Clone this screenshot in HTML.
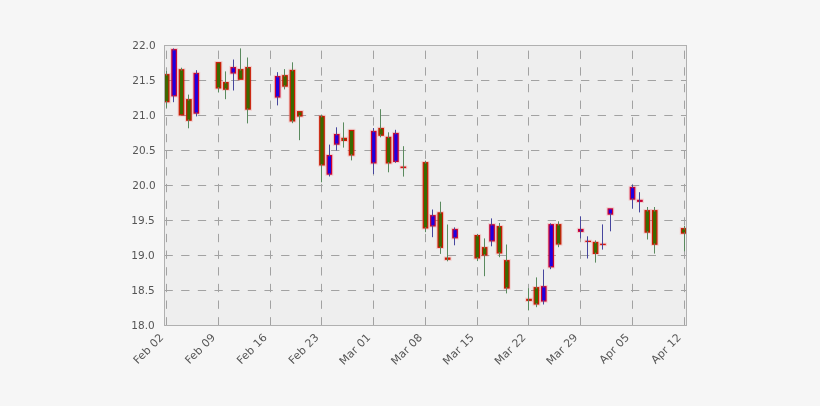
<!DOCTYPE html>
<html><head><meta charset="utf-8"><title>Candlestick chart</title>
<style>
html,body{margin:0;padding:0;background:#f6f6f6;}
body{width:820px;height:406px;overflow:hidden;}
svg{display:block;}
text{font-family:"DejaVu Sans","Liberation Sans",sans-serif;font-size:10.4px;fill:#555555;}
</style></head><body>
<svg width="820" height="406" viewBox="0 0 820 406">
<rect x="0" y="0" width="820" height="406" fill="#f6f6f6"/>
<rect x="164.5" y="45.5" width="522.0" height="280.0" fill="#eeeeee"/>
<clipPath id="ax"><rect x="164.5" y="45.5" width="522.0" height="280.0"/></clipPath>
<g stroke="#a2a2a2" stroke-width="1" stroke-dasharray="8.33 8.33" fill="none" clip-path="url(#ax)">
<line x1="166.50" y1="325.5" x2="166.50" y2="45.5"/>
<line x1="218.50" y1="325.5" x2="218.50" y2="45.5"/>
<line x1="270.50" y1="325.5" x2="270.50" y2="45.5"/>
<line x1="321.50" y1="325.5" x2="321.50" y2="45.5"/>
<line x1="373.50" y1="325.5" x2="373.50" y2="45.5"/>
<line x1="425.50" y1="325.5" x2="425.50" y2="45.5"/>
<line x1="477.50" y1="325.5" x2="477.50" y2="45.5"/>
<line x1="528.50" y1="325.5" x2="528.50" y2="45.5"/>
<line x1="580.50" y1="325.5" x2="580.50" y2="45.5"/>
<line x1="632.50" y1="325.5" x2="632.50" y2="45.5"/>
<line x1="684.50" y1="325.5" x2="684.50" y2="45.5"/>
<line x1="164.5" y1="325.50" x2="686.5" y2="325.50"/>
<line x1="164.5" y1="290.50" x2="686.5" y2="290.50"/>
<line x1="164.5" y1="255.50" x2="686.5" y2="255.50"/>
<line x1="164.5" y1="220.50" x2="686.5" y2="220.50"/>
<line x1="164.5" y1="185.50" x2="686.5" y2="185.50"/>
<line x1="164.5" y1="150.50" x2="686.5" y2="150.50"/>
<line x1="164.5" y1="115.50" x2="686.5" y2="115.50"/>
<line x1="164.5" y1="80.50" x2="686.5" y2="80.50"/>
<line x1="164.5" y1="45.50" x2="686.5" y2="45.50"/>
</g>
<g clip-path="url(#ax)">
<rect x="164.50" y="74.70" width="4.44" height="27.00" fill="none" stroke="#ff0000" stroke-opacity="0.13" stroke-width="3.4000000000000004"/>
<rect x="164.50" y="74.70" width="4.44" height="27.00" fill="#3a6a00" stroke="#cc1800" stroke-width="1.2"/>
<rect x="171.89" y="49.70" width="4.44" height="46.10" fill="none" stroke="#ff0000" stroke-opacity="0.13" stroke-width="3.4000000000000004"/>
<rect x="171.89" y="49.70" width="4.44" height="46.10" fill="#1e00e1" stroke="#cc0030" stroke-width="1.2"/>
<rect x="179.29" y="69.80" width="4.44" height="45.10" fill="none" stroke="#ff0000" stroke-opacity="0.13" stroke-width="3.4000000000000004"/>
<rect x="179.29" y="69.80" width="4.44" height="45.10" fill="#3a6a00" stroke="#cc1800" stroke-width="1.2"/>
<rect x="186.68" y="99.70" width="4.44" height="20.50" fill="none" stroke="#ff0000" stroke-opacity="0.13" stroke-width="3.4000000000000004"/>
<rect x="186.68" y="99.70" width="4.44" height="20.50" fill="#3a6a00" stroke="#cc1800" stroke-width="1.2"/>
<rect x="194.08" y="73.50" width="4.44" height="39.60" fill="none" stroke="#ff0000" stroke-opacity="0.13" stroke-width="3.4000000000000004"/>
<rect x="194.08" y="73.50" width="4.44" height="39.60" fill="#1e00e1" stroke="#cc0030" stroke-width="1.2"/>
<rect x="216.26" y="62.70" width="4.44" height="25.20" fill="none" stroke="#ff0000" stroke-opacity="0.13" stroke-width="3.4000000000000004"/>
<rect x="216.26" y="62.70" width="4.44" height="25.20" fill="#3a6a00" stroke="#cc1800" stroke-width="1.2"/>
<rect x="223.65" y="82.60" width="4.44" height="6.60" fill="none" stroke="#ff0000" stroke-opacity="0.13" stroke-width="3.4000000000000004"/>
<rect x="223.65" y="82.60" width="4.44" height="6.60" fill="#3a6a00" stroke="#cc1800" stroke-width="1.2"/>
<rect x="231.04" y="67.60" width="4.44" height="5.40" fill="none" stroke="#ff0000" stroke-opacity="0.13" stroke-width="3.4000000000000004"/>
<rect x="231.04" y="67.60" width="4.44" height="5.40" fill="#1e00e1" stroke="#cc0030" stroke-width="1.2"/>
<rect x="238.44" y="69.70" width="4.44" height="9.50" fill="none" stroke="#ff0000" stroke-opacity="0.13" stroke-width="3.4000000000000004"/>
<rect x="238.44" y="69.70" width="4.44" height="9.50" fill="#3a6a00" stroke="#cc1800" stroke-width="1.2"/>
<rect x="245.83" y="67.60" width="4.44" height="41.50" fill="none" stroke="#ff0000" stroke-opacity="0.13" stroke-width="3.4000000000000004"/>
<rect x="245.83" y="67.60" width="4.44" height="41.50" fill="#3a6a00" stroke="#cc1800" stroke-width="1.2"/>
<rect x="275.41" y="76.60" width="4.44" height="20.40" fill="none" stroke="#ff0000" stroke-opacity="0.13" stroke-width="3.4000000000000004"/>
<rect x="275.41" y="76.60" width="4.44" height="20.40" fill="#1e00e1" stroke="#cc0030" stroke-width="1.2"/>
<rect x="282.80" y="75.70" width="4.44" height="10.40" fill="none" stroke="#ff0000" stroke-opacity="0.13" stroke-width="3.4000000000000004"/>
<rect x="282.80" y="75.70" width="4.44" height="10.40" fill="#3a6a00" stroke="#cc1800" stroke-width="1.2"/>
<rect x="290.19" y="70.50" width="4.44" height="50.40" fill="none" stroke="#ff0000" stroke-opacity="0.13" stroke-width="3.4000000000000004"/>
<rect x="290.19" y="70.50" width="4.44" height="50.40" fill="#3a6a00" stroke="#cc1800" stroke-width="1.2"/>
<rect x="297.59" y="111.70" width="4.44" height="4.30" fill="none" stroke="#ff0000" stroke-opacity="0.13" stroke-width="3.4000000000000004"/>
<rect x="297.59" y="111.70" width="4.44" height="4.30" fill="#3a6a00" stroke="#cc1800" stroke-width="1.2"/>
<rect x="319.77" y="116.50" width="4.44" height="48.40" fill="none" stroke="#ff0000" stroke-opacity="0.13" stroke-width="3.4000000000000004"/>
<rect x="319.77" y="116.50" width="4.44" height="48.40" fill="#3a6a00" stroke="#cc1800" stroke-width="1.2"/>
<rect x="327.16" y="155.60" width="4.44" height="18.50" fill="none" stroke="#ff0000" stroke-opacity="0.13" stroke-width="3.4000000000000004"/>
<rect x="327.16" y="155.60" width="4.44" height="18.50" fill="#1e00e1" stroke="#cc0030" stroke-width="1.2"/>
<rect x="334.56" y="134.60" width="4.44" height="9.50" fill="none" stroke="#ff0000" stroke-opacity="0.13" stroke-width="3.4000000000000004"/>
<rect x="334.56" y="134.60" width="4.44" height="9.50" fill="#1e00e1" stroke="#cc0030" stroke-width="1.2"/>
<rect x="341.95" y="138.40" width="4.44" height="2.00" fill="none" stroke="#ff0000" stroke-opacity="0.13" stroke-width="3.4000000000000004"/>
<rect x="341.95" y="138.40" width="4.44" height="2.00" fill="#3a6a00" stroke="#cc1800" stroke-width="1.2"/>
<rect x="349.34" y="130.50" width="4.44" height="24.50" fill="none" stroke="#ff0000" stroke-opacity="0.13" stroke-width="3.4000000000000004"/>
<rect x="349.34" y="130.50" width="4.44" height="24.50" fill="#3a6a00" stroke="#cc1800" stroke-width="1.2"/>
<rect x="371.53" y="131.50" width="4.44" height="31.40" fill="none" stroke="#ff0000" stroke-opacity="0.13" stroke-width="3.4000000000000004"/>
<rect x="371.53" y="131.50" width="4.44" height="31.40" fill="#1e00e1" stroke="#cc0030" stroke-width="1.2"/>
<rect x="378.92" y="128.50" width="4.44" height="6.70" fill="none" stroke="#ff0000" stroke-opacity="0.13" stroke-width="3.4000000000000004"/>
<rect x="378.92" y="128.50" width="4.44" height="6.70" fill="#3a6a00" stroke="#cc1800" stroke-width="1.2"/>
<rect x="386.31" y="137.40" width="4.44" height="25.50" fill="none" stroke="#ff0000" stroke-opacity="0.13" stroke-width="3.4000000000000004"/>
<rect x="386.31" y="137.40" width="4.44" height="25.50" fill="#3a6a00" stroke="#cc1800" stroke-width="1.2"/>
<rect x="393.71" y="133.50" width="4.44" height="27.90" fill="none" stroke="#ff0000" stroke-opacity="0.13" stroke-width="3.4000000000000004"/>
<rect x="393.71" y="133.50" width="4.44" height="27.90" fill="#1e00e1" stroke="#cc0030" stroke-width="1.2"/>
<rect x="399.40" y="165.50" width="7.84" height="3.60" fill="#ff0000" fill-opacity="0.13"/>
<rect x="400.50" y="166.50" width="5.64" height="1.60" fill="#d41414"/>
<rect x="423.28" y="162.70" width="4.44" height="65.20" fill="none" stroke="#ff0000" stroke-opacity="0.13" stroke-width="3.4000000000000004"/>
<rect x="423.28" y="162.70" width="4.44" height="65.20" fill="#3a6a00" stroke="#cc1800" stroke-width="1.2"/>
<rect x="430.68" y="215.70" width="4.44" height="10.20" fill="none" stroke="#ff0000" stroke-opacity="0.13" stroke-width="3.4000000000000004"/>
<rect x="430.68" y="215.70" width="4.44" height="10.20" fill="#1e00e1" stroke="#cc0030" stroke-width="1.2"/>
<rect x="438.07" y="212.90" width="4.44" height="34.40" fill="none" stroke="#ff0000" stroke-opacity="0.13" stroke-width="3.4000000000000004"/>
<rect x="438.07" y="212.90" width="4.44" height="34.40" fill="#3a6a00" stroke="#cc1800" stroke-width="1.2"/>
<rect x="445.46" y="258.10" width="4.44" height="1.10" fill="none" stroke="#ff0000" stroke-opacity="0.13" stroke-width="3.4000000000000004"/>
<rect x="445.46" y="258.10" width="4.44" height="1.10" fill="#3a6a00" stroke="#cc1800" stroke-width="1.2"/>
<rect x="452.86" y="229.50" width="4.44" height="8.30" fill="none" stroke="#ff0000" stroke-opacity="0.13" stroke-width="3.4000000000000004"/>
<rect x="452.86" y="229.50" width="4.44" height="8.30" fill="#1e00e1" stroke="#cc0030" stroke-width="1.2"/>
<rect x="475.04" y="235.60" width="4.44" height="22.30" fill="none" stroke="#ff0000" stroke-opacity="0.13" stroke-width="3.4000000000000004"/>
<rect x="475.04" y="235.60" width="4.44" height="22.30" fill="#3a6a00" stroke="#cc1800" stroke-width="1.2"/>
<rect x="482.43" y="247.70" width="4.44" height="7.30" fill="none" stroke="#ff0000" stroke-opacity="0.13" stroke-width="3.4000000000000004"/>
<rect x="482.43" y="247.70" width="4.44" height="7.30" fill="#3a6a00" stroke="#cc1800" stroke-width="1.2"/>
<rect x="489.83" y="224.80" width="4.44" height="16.10" fill="none" stroke="#ff0000" stroke-opacity="0.13" stroke-width="3.4000000000000004"/>
<rect x="489.83" y="224.80" width="4.44" height="16.10" fill="#1e00e1" stroke="#cc0030" stroke-width="1.2"/>
<rect x="497.22" y="226.70" width="4.44" height="26.20" fill="none" stroke="#ff0000" stroke-opacity="0.13" stroke-width="3.4000000000000004"/>
<rect x="497.22" y="226.70" width="4.44" height="26.20" fill="#3a6a00" stroke="#cc1800" stroke-width="1.2"/>
<rect x="504.61" y="260.70" width="4.44" height="27.30" fill="none" stroke="#ff0000" stroke-opacity="0.13" stroke-width="3.4000000000000004"/>
<rect x="504.61" y="260.70" width="4.44" height="27.30" fill="#3a6a00" stroke="#cc1800" stroke-width="1.2"/>
<rect x="526.80" y="299.40" width="4.44" height="0.90" fill="none" stroke="#ff0000" stroke-opacity="0.13" stroke-width="3.4000000000000004"/>
<rect x="526.80" y="299.40" width="4.44" height="0.90" fill="#3a6a00" stroke="#cc1800" stroke-width="1.2"/>
<rect x="534.19" y="287.70" width="4.44" height="16.30" fill="none" stroke="#ff0000" stroke-opacity="0.13" stroke-width="3.4000000000000004"/>
<rect x="534.19" y="287.70" width="4.44" height="16.30" fill="#3a6a00" stroke="#cc1800" stroke-width="1.2"/>
<rect x="541.58" y="286.70" width="4.44" height="14.30" fill="none" stroke="#ff0000" stroke-opacity="0.13" stroke-width="3.4000000000000004"/>
<rect x="541.58" y="286.70" width="4.44" height="14.30" fill="#1e00e1" stroke="#cc0030" stroke-width="1.2"/>
<rect x="548.98" y="224.70" width="4.44" height="42.10" fill="none" stroke="#ff0000" stroke-opacity="0.13" stroke-width="3.4000000000000004"/>
<rect x="548.98" y="224.70" width="4.44" height="42.10" fill="#1e00e1" stroke="#cc0030" stroke-width="1.2"/>
<rect x="556.37" y="224.70" width="4.44" height="19.30" fill="none" stroke="#ff0000" stroke-opacity="0.13" stroke-width="3.4000000000000004"/>
<rect x="556.37" y="224.70" width="4.44" height="19.30" fill="#3a6a00" stroke="#cc1800" stroke-width="1.2"/>
<rect x="578.55" y="229.50" width="4.44" height="1.80" fill="none" stroke="#ff0000" stroke-opacity="0.13" stroke-width="3.4000000000000004"/>
<rect x="578.55" y="229.50" width="4.44" height="1.80" fill="#1e00e1" stroke="#cc0030" stroke-width="1.2"/>
<rect x="584.25" y="239.70" width="7.84" height="3.30" fill="#ff0000" fill-opacity="0.13"/>
<rect x="585.35" y="240.70" width="5.64" height="1.30" fill="#d41414"/>
<rect x="593.34" y="242.50" width="4.44" height="10.90" fill="none" stroke="#ff0000" stroke-opacity="0.13" stroke-width="3.4000000000000004"/>
<rect x="593.34" y="242.50" width="4.44" height="10.90" fill="#3a6a00" stroke="#cc1800" stroke-width="1.2"/>
<rect x="599.03" y="242.70" width="7.84" height="3.40" fill="#ff0000" fill-opacity="0.13"/>
<rect x="600.13" y="243.70" width="5.64" height="1.40" fill="#d41414"/>
<rect x="608.13" y="208.90" width="4.44" height="5.20" fill="none" stroke="#ff0000" stroke-opacity="0.13" stroke-width="3.4000000000000004"/>
<rect x="608.13" y="208.90" width="4.44" height="5.20" fill="#1e00e1" stroke="#cc0030" stroke-width="1.2"/>
<rect x="630.31" y="187.50" width="4.44" height="11.60" fill="none" stroke="#ff0000" stroke-opacity="0.13" stroke-width="3.4000000000000004"/>
<rect x="630.31" y="187.50" width="4.44" height="11.60" fill="#1e00e1" stroke="#cc0030" stroke-width="1.2"/>
<rect x="637.70" y="200.40" width="4.44" height="0.90" fill="none" stroke="#ff0000" stroke-opacity="0.13" stroke-width="3.4000000000000004"/>
<rect x="637.70" y="200.40" width="4.44" height="0.90" fill="#1e00e1" stroke="#cc0030" stroke-width="1.2"/>
<rect x="645.10" y="210.70" width="4.44" height="21.40" fill="none" stroke="#ff0000" stroke-opacity="0.13" stroke-width="3.4000000000000004"/>
<rect x="645.10" y="210.70" width="4.44" height="21.40" fill="#3a6a00" stroke="#cc1800" stroke-width="1.2"/>
<rect x="652.49" y="210.70" width="4.44" height="33.50" fill="none" stroke="#ff0000" stroke-opacity="0.13" stroke-width="3.4000000000000004"/>
<rect x="652.49" y="210.70" width="4.44" height="33.50" fill="#3a6a00" stroke="#cc1800" stroke-width="1.2"/>
<rect x="681.47" y="228.70" width="4.44" height="4.40" fill="none" stroke="#ff0000" stroke-opacity="0.13" stroke-width="3.4000000000000004"/>
<rect x="681.47" y="228.70" width="4.44" height="4.40" fill="#3a6a00" stroke="#cc1800" stroke-width="1.2"/>
<line x1="166.50" y1="71.00" x2="166.50" y2="75.50" stroke="#5a8a5e" stroke-width="1"/>
<line x1="166.50" y1="100.90" x2="166.50" y2="107.80" stroke="#5a8a5e" stroke-width="1"/>
<line x1="173.50" y1="48.40" x2="173.50" y2="50.50" stroke="#46469e" stroke-width="1"/>
<line x1="173.50" y1="95.00" x2="173.50" y2="102.20" stroke="#46469e" stroke-width="1"/>
<line x1="181.50" y1="67.70" x2="181.50" y2="70.60" stroke="#5a8a5e" stroke-width="1"/>
<line x1="188.50" y1="94.60" x2="188.50" y2="100.50" stroke="#5a8a5e" stroke-width="1"/>
<line x1="188.50" y1="119.40" x2="188.50" y2="128.30" stroke="#5a8a5e" stroke-width="1"/>
<line x1="196.50" y1="70.20" x2="196.50" y2="74.30" stroke="#46469e" stroke-width="1"/>
<line x1="196.50" y1="112.30" x2="196.50" y2="116.40" stroke="#46469e" stroke-width="1"/>
<line x1="218.50" y1="87.10" x2="218.50" y2="92.40" stroke="#5a8a5e" stroke-width="1"/>
<line x1="225.50" y1="71.40" x2="225.50" y2="83.40" stroke="#5a8a5e" stroke-width="1"/>
<line x1="225.50" y1="88.40" x2="225.50" y2="99.20" stroke="#5a8a5e" stroke-width="1"/>
<line x1="233.50" y1="59.50" x2="233.50" y2="68.40" stroke="#46469e" stroke-width="1"/>
<line x1="233.50" y1="72.20" x2="233.50" y2="90.50" stroke="#46469e" stroke-width="1"/>
<line x1="240.50" y1="48.40" x2="240.50" y2="70.50" stroke="#5a8a5e" stroke-width="1"/>
<line x1="247.50" y1="57.50" x2="247.50" y2="68.40" stroke="#5a8a5e" stroke-width="1"/>
<line x1="247.50" y1="108.30" x2="247.50" y2="123.40" stroke="#5a8a5e" stroke-width="1"/>
<line x1="277.50" y1="72.20" x2="277.50" y2="77.40" stroke="#46469e" stroke-width="1"/>
<line x1="277.50" y1="96.20" x2="277.50" y2="105.40" stroke="#46469e" stroke-width="1"/>
<line x1="284.50" y1="69.10" x2="284.50" y2="76.50" stroke="#5a8a5e" stroke-width="1"/>
<line x1="284.50" y1="85.30" x2="284.50" y2="89.40" stroke="#5a8a5e" stroke-width="1"/>
<line x1="292.50" y1="62.30" x2="292.50" y2="71.30" stroke="#5a8a5e" stroke-width="1"/>
<line x1="292.50" y1="120.10" x2="292.50" y2="123.20" stroke="#5a8a5e" stroke-width="1"/>
<line x1="299.50" y1="115.20" x2="299.50" y2="140.20" stroke="#5a8a5e" stroke-width="1"/>
<line x1="321.50" y1="114.60" x2="321.50" y2="117.30" stroke="#5a8a5e" stroke-width="1"/>
<line x1="321.50" y1="164.10" x2="321.50" y2="182.30" stroke="#5a8a5e" stroke-width="1"/>
<line x1="329.50" y1="144.60" x2="329.50" y2="156.40" stroke="#46469e" stroke-width="1"/>
<line x1="329.50" y1="173.30" x2="329.50" y2="176.50" stroke="#46469e" stroke-width="1"/>
<line x1="336.50" y1="127.30" x2="336.50" y2="135.40" stroke="#46469e" stroke-width="1"/>
<line x1="336.50" y1="143.30" x2="336.50" y2="150.50" stroke="#46469e" stroke-width="1"/>
<line x1="343.50" y1="122.40" x2="343.50" y2="147.60" stroke="#5a8a5e" stroke-width="1"/>
<line x1="351.50" y1="154.20" x2="351.50" y2="160.40" stroke="#5a8a5e" stroke-width="1"/>
<line x1="373.50" y1="128.00" x2="373.50" y2="132.30" stroke="#46469e" stroke-width="1"/>
<line x1="373.50" y1="162.10" x2="373.50" y2="174.00" stroke="#46469e" stroke-width="1"/>
<line x1="380.50" y1="109.20" x2="380.50" y2="129.30" stroke="#5a8a5e" stroke-width="1"/>
<line x1="380.50" y1="134.40" x2="380.50" y2="137.30" stroke="#5a8a5e" stroke-width="1"/>
<line x1="388.50" y1="132.30" x2="388.50" y2="138.20" stroke="#5a8a5e" stroke-width="1"/>
<line x1="388.50" y1="162.10" x2="388.50" y2="172.30" stroke="#5a8a5e" stroke-width="1"/>
<line x1="395.50" y1="129.80" x2="395.50" y2="134.30" stroke="#46469e" stroke-width="1"/>
<line x1="395.50" y1="160.60" x2="395.50" y2="162.80" stroke="#46469e" stroke-width="1"/>
<line x1="403.50" y1="146.20" x2="403.50" y2="176.60" stroke="#5a8a5e" stroke-width="1"/>
<line x1="425.50" y1="160.70" x2="425.50" y2="163.50" stroke="#5a8a5e" stroke-width="1"/>
<line x1="425.50" y1="227.10" x2="425.50" y2="232.20" stroke="#5a8a5e" stroke-width="1"/>
<line x1="432.50" y1="209.50" x2="432.50" y2="216.50" stroke="#46469e" stroke-width="1"/>
<line x1="432.50" y1="225.10" x2="432.50" y2="237.20" stroke="#46469e" stroke-width="1"/>
<line x1="440.50" y1="201.70" x2="440.50" y2="213.70" stroke="#5a8a5e" stroke-width="1"/>
<line x1="440.50" y1="246.50" x2="440.50" y2="253.90" stroke="#5a8a5e" stroke-width="1"/>
<line x1="447.50" y1="224.50" x2="447.50" y2="261.30" stroke="#5a8a5e" stroke-width="1"/>
<line x1="454.50" y1="227.40" x2="454.50" y2="230.30" stroke="#46469e" stroke-width="1"/>
<line x1="454.50" y1="237.00" x2="454.50" y2="245.30" stroke="#46469e" stroke-width="1"/>
<line x1="477.50" y1="234.00" x2="477.50" y2="236.40" stroke="#5a8a5e" stroke-width="1"/>
<line x1="477.50" y1="257.10" x2="477.50" y2="261.10" stroke="#5a8a5e" stroke-width="1"/>
<line x1="484.50" y1="238.40" x2="484.50" y2="248.50" stroke="#5a8a5e" stroke-width="1"/>
<line x1="484.50" y1="254.20" x2="484.50" y2="276.20" stroke="#5a8a5e" stroke-width="1"/>
<line x1="491.50" y1="218.40" x2="491.50" y2="225.60" stroke="#46469e" stroke-width="1"/>
<line x1="491.50" y1="240.10" x2="491.50" y2="246.30" stroke="#46469e" stroke-width="1"/>
<line x1="499.50" y1="223.00" x2="499.50" y2="227.50" stroke="#5a8a5e" stroke-width="1"/>
<line x1="499.50" y1="252.10" x2="499.50" y2="257.20" stroke="#5a8a5e" stroke-width="1"/>
<line x1="506.50" y1="244.50" x2="506.50" y2="261.50" stroke="#5a8a5e" stroke-width="1"/>
<line x1="506.50" y1="287.20" x2="506.50" y2="293.40" stroke="#5a8a5e" stroke-width="1"/>
<line x1="528.50" y1="288.20" x2="528.50" y2="310.40" stroke="#5a8a5e" stroke-width="1"/>
<line x1="536.50" y1="277.40" x2="536.50" y2="288.50" stroke="#5a8a5e" stroke-width="1"/>
<line x1="536.50" y1="303.20" x2="536.50" y2="307.20" stroke="#5a8a5e" stroke-width="1"/>
<line x1="543.50" y1="269.50" x2="543.50" y2="287.50" stroke="#46469e" stroke-width="1"/>
<line x1="543.50" y1="300.20" x2="543.50" y2="304.50" stroke="#46469e" stroke-width="1"/>
<line x1="550.50" y1="223.30" x2="550.50" y2="225.50" stroke="#46469e" stroke-width="1"/>
<line x1="550.50" y1="266.00" x2="550.50" y2="269.20" stroke="#46469e" stroke-width="1"/>
<line x1="558.50" y1="221.30" x2="558.50" y2="225.50" stroke="#5a8a5e" stroke-width="1"/>
<line x1="558.50" y1="243.20" x2="558.50" y2="247.20" stroke="#5a8a5e" stroke-width="1"/>
<line x1="580.50" y1="216.30" x2="580.50" y2="238.40" stroke="#46469e" stroke-width="1"/>
<line x1="587.50" y1="236.30" x2="587.50" y2="258.50" stroke="#46469e" stroke-width="1"/>
<line x1="595.50" y1="240.40" x2="595.50" y2="243.30" stroke="#5a8a5e" stroke-width="1"/>
<line x1="595.50" y1="252.60" x2="595.50" y2="262.60" stroke="#5a8a5e" stroke-width="1"/>
<line x1="602.50" y1="224.40" x2="602.50" y2="249.60" stroke="#46469e" stroke-width="1"/>
<line x1="610.50" y1="213.30" x2="610.50" y2="231.30" stroke="#46469e" stroke-width="1"/>
<line x1="632.50" y1="184.80" x2="632.50" y2="188.30" stroke="#46469e" stroke-width="1"/>
<line x1="632.50" y1="198.30" x2="632.50" y2="208.50" stroke="#46469e" stroke-width="1"/>
<line x1="639.50" y1="192.20" x2="639.50" y2="212.40" stroke="#46469e" stroke-width="1"/>
<line x1="647.50" y1="207.00" x2="647.50" y2="211.50" stroke="#5a8a5e" stroke-width="1"/>
<line x1="647.50" y1="231.30" x2="647.50" y2="239.50" stroke="#5a8a5e" stroke-width="1"/>
<line x1="654.50" y1="207.00" x2="654.50" y2="211.50" stroke="#5a8a5e" stroke-width="1"/>
<line x1="654.50" y1="243.40" x2="654.50" y2="253.60" stroke="#5a8a5e" stroke-width="1"/>
<line x1="684.50" y1="226.00" x2="684.50" y2="229.50" stroke="#5a8a5e" stroke-width="1"/>
<line x1="684.50" y1="232.30" x2="684.50" y2="251.30" stroke="#5a8a5e" stroke-width="1"/>
</g>
<rect x="164.5" y="45.5" width="522.0" height="280.0" fill="none" stroke="#b0b0b0" stroke-width="1"/>
<text x="154.7" y="329.40" text-anchor="end" style="font-size:10.5px">18.0</text>
<text x="154.7" y="294.40" text-anchor="end" style="font-size:10.5px">18.5</text>
<text x="154.7" y="259.40" text-anchor="end" style="font-size:10.5px">19.0</text>
<text x="154.7" y="224.40" text-anchor="end" style="font-size:10.5px">19.5</text>
<text x="155.6" y="189.40" text-anchor="end" style="font-size:10.5px">20.0</text>
<text x="155.6" y="154.40" text-anchor="end" style="font-size:10.5px">20.5</text>
<text x="155.6" y="119.40" text-anchor="end" style="font-size:10.5px">21.0</text>
<text x="155.6" y="84.40" text-anchor="end" style="font-size:10.5px">21.5</text>
<text x="155.6" y="49.40" text-anchor="end" style="font-size:10.5px">22.0</text>
<text x="164.22" y="338.10" text-anchor="end" style="font-size:10.9px;letter-spacing:0.15px" transform="rotate(-45 164.22 338.10)">Feb 02</text>
<text x="215.97" y="338.10" text-anchor="end" style="font-size:10.9px;letter-spacing:0.15px" transform="rotate(-45 215.97 338.10)">Feb 09</text>
<text x="267.73" y="338.10" text-anchor="end" style="font-size:10.9px;letter-spacing:0.15px" transform="rotate(-45 267.73 338.10)">Feb 16</text>
<text x="319.49" y="338.10" text-anchor="end" style="font-size:10.9px;letter-spacing:0.15px" transform="rotate(-45 319.49 338.10)">Feb 23</text>
<text x="371.24" y="338.10" text-anchor="end" style="font-size:10.9px;letter-spacing:0.15px" transform="rotate(-45 371.24 338.10)">Mar 01</text>
<text x="423.00" y="338.10" text-anchor="end" style="font-size:10.9px;letter-spacing:0.15px" transform="rotate(-45 423.00 338.10)">Mar 08</text>
<text x="474.76" y="338.10" text-anchor="end" style="font-size:10.9px;letter-spacing:0.15px" transform="rotate(-45 474.76 338.10)">Mar 15</text>
<text x="526.51" y="338.10" text-anchor="end" style="font-size:10.9px;letter-spacing:0.15px" transform="rotate(-45 526.51 338.10)">Mar 22</text>
<text x="578.27" y="338.10" text-anchor="end" style="font-size:10.9px;letter-spacing:0.15px" transform="rotate(-45 578.27 338.10)">Mar 29</text>
<text x="630.03" y="338.10" text-anchor="end" style="font-size:10.9px;letter-spacing:0.15px" transform="rotate(-45 630.03 338.10)">Apr 05</text>
<text x="681.78" y="338.10" text-anchor="end" style="font-size:10.9px;letter-spacing:0.15px" transform="rotate(-45 681.78 338.10)">Apr 12</text>
</svg>
</body></html>
